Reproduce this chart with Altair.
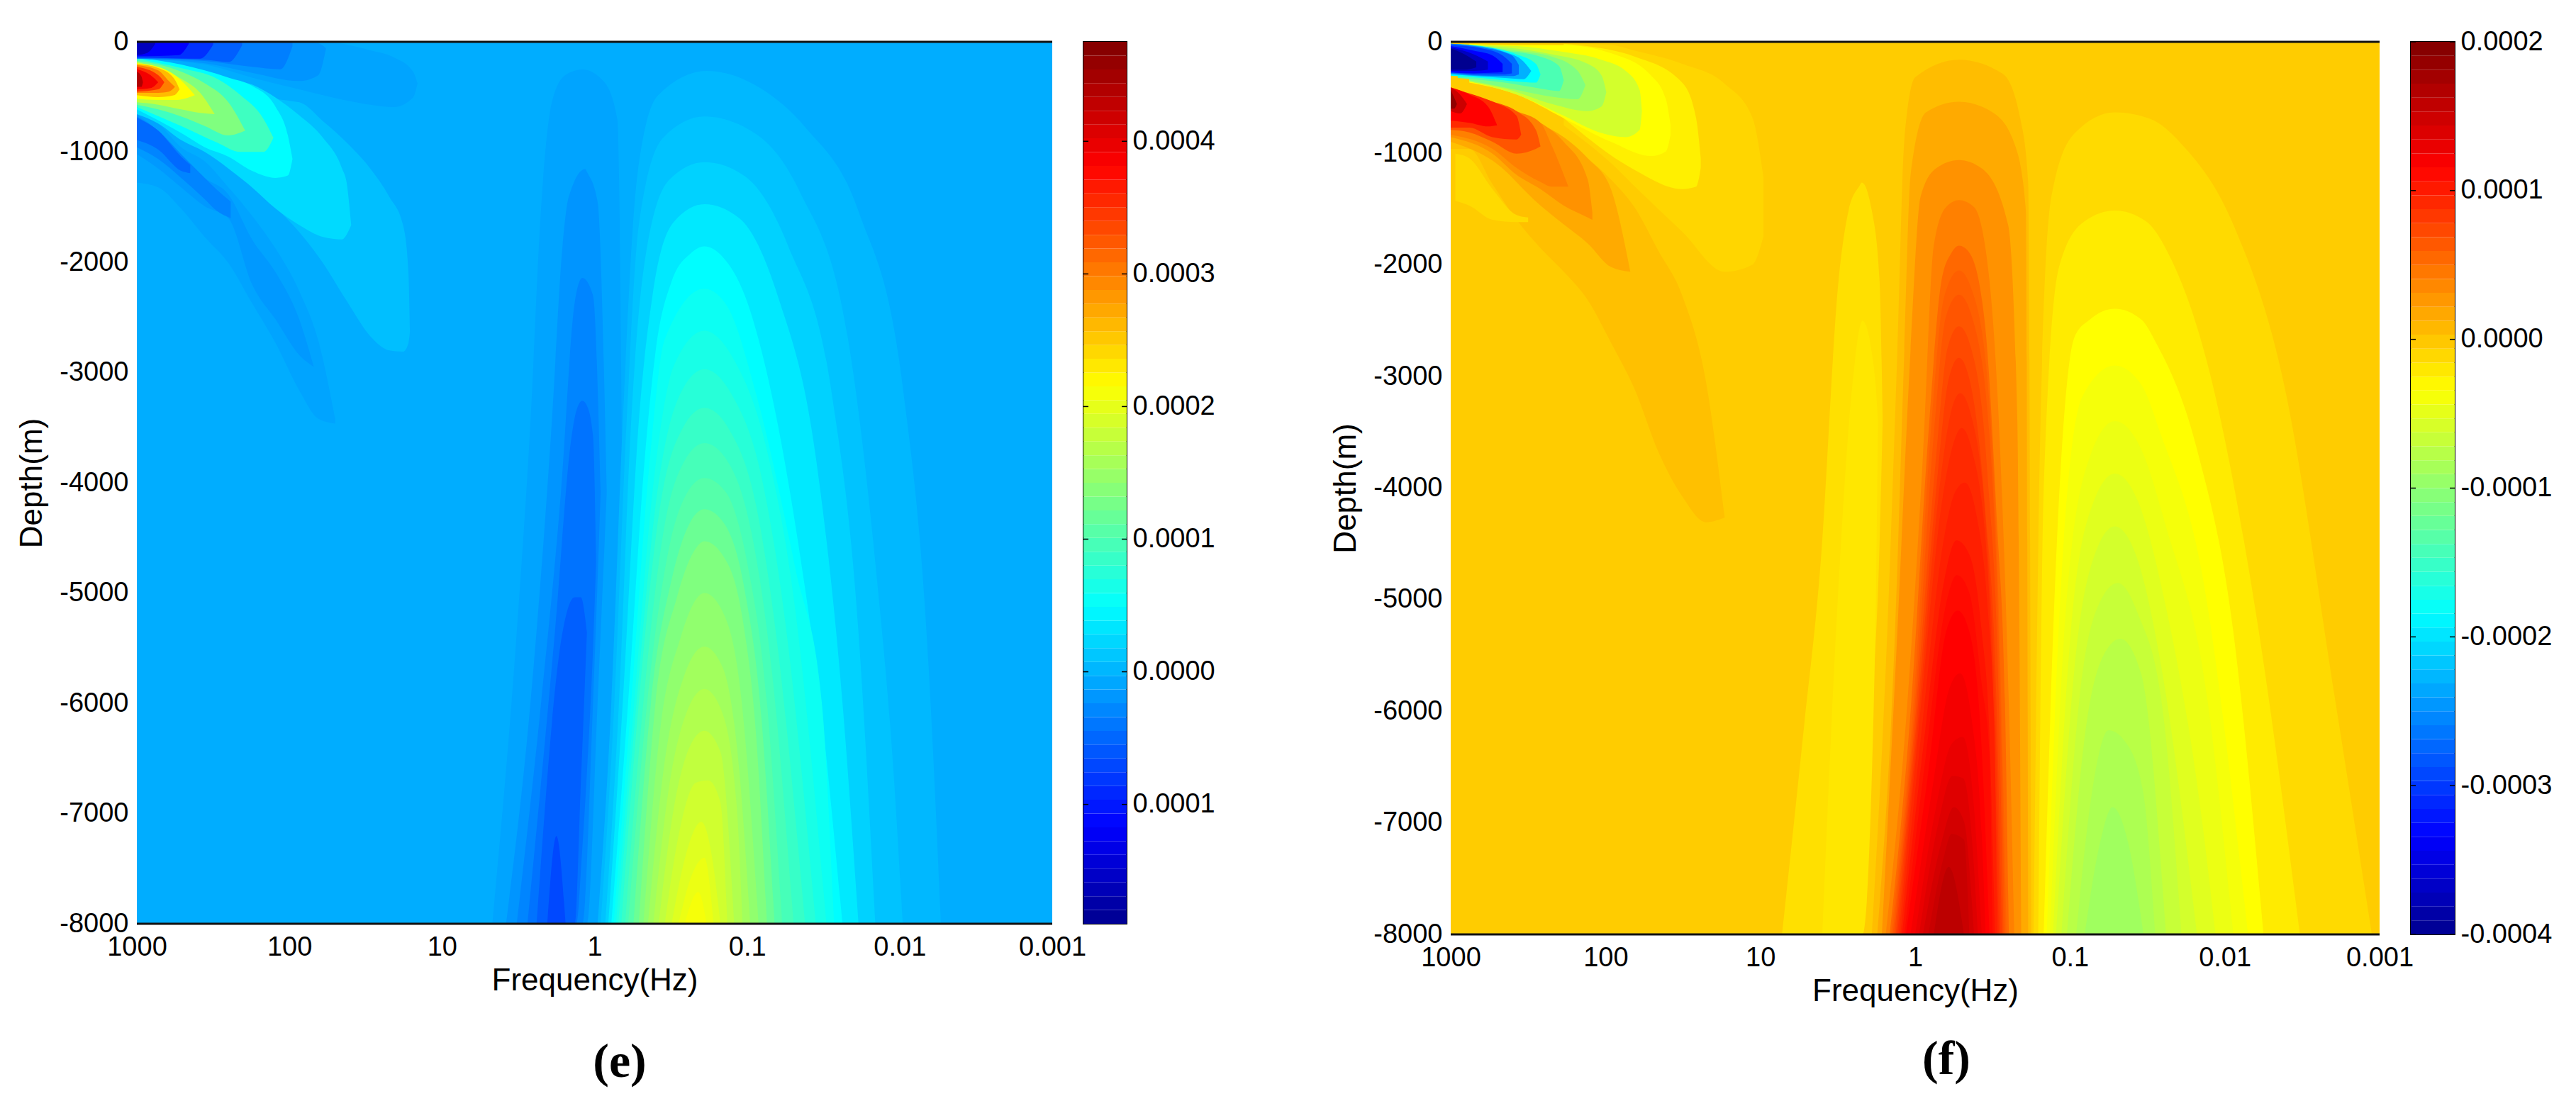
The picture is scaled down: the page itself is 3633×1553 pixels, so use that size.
import altair as alt
import numpy as np
import pandas as pd

FONT = "Liberation Sans"
X_TICKS = [1000, 100, 10, 1, 0.1, 0.01, 0.001]
Y_TICKS = [0, -1000, -2000, -3000, -4000, -5000, -6000, -7000, -8000]
JET_STOPS = [0, 0.11, 0.36, 0.61, 0.86, 1]
JET_COLORS = ["#00008F", "#0000FF", "#00FFFF", "#FFFF00", "#FF0000", "#800000"]

# each band: level (1e-4), decades below 1000 Hz, upper edge depth (m), lower edge depth (m; None = 8000)
BANDS_E = [
    (-0.04, [0, 6], [0, 0], None),
    (-0.1, [2.33, 2.49, 2.58, 2.65, 2.72, 2.81, 2.92, 3.06, 3.15, 3.2], [8000, 5357, 3447, 1500, 550, 300, 251, 359, 709, 8000], None),
    (-0.2, [2.42, 2.58, 2.72, 2.79, 2.83, 2.94, 2.95, 3.02, 3.08], [8000, 5994, 3447, 1855, 1410, 1155, 1180, 1450, 4084], [8000, 8000, 8000, 8000, 8000, 8000, 8000, 5994, 4084]),
    (-0.3, [2.49, 2.65, 2.78, 2.87, 2.92, 2.99, 3.04], [8000, 5994, 4084, 2365, 2142, 2300, 4084], [8000, 8000, 8000, 8000, 8000, 5994, 4084]),
    (-0.42, [2.56, 2.74, 2.85, 2.88, 2.92, 2.95, 2.99, 3.01], [8000, 5357, 3575, 3350, 3256, 3300, 3575, 4720], [8000, 8000, 8000, 8000, 7312, 6630, 5500, 4720]),
    (-0.55, [2.62, 2.79, 2.87, 2.91, 2.95], [8000, 5357, 5039, 5039, 5357], [8000, 8000, 8000, 6730, 5357]),
    (-0.7, [2.69, 2.75, 2.81], [8000, 7204, 8000], None),
    (0.03, [3.02, 3.11, 3.185, 3.28, 3.415, 3.735, 4.09, 4.38, 4.73, 5.02, 5.19, 5.27], [8000, 5994, 3447, 1219, 487, 264, 423, 773, 1537, 3129, 5676, 8000], None),
    (0.1, [3.04, 3.13, 3.21, 3.29, 3.45, 3.72, 4.06, 4.34, 4.66, 4.84, 4.96, 5.02], [8000, 5994, 3447, 1664, 869, 677, 837, 1346, 2683, 4720, 6630, 8000], None),
    (0.2, [3.07, 3.16, 3.24, 3.33, 3.49, 3.72, 3.985, 4.27, 4.555, 4.73, 4.84], [8000, 5994, 3447, 1983, 1251, 1091, 1219, 1855, 3193, 5357, 8000], None),
    (0.35, [3.09, 3.185, 3.29, 3.38, 3.52, 3.72, 3.95, 4.20, 4.45, 4.625, 4.73], [8000, 5994, 3447, 2301, 1633, 1473, 1601, 2301, 3766, 5994, 8000], None),
    (0.49, [3.11, 3.22, 3.33, 3.40, 3.505, 3.63, 3.72, 3.84, 3.985, 4.16, 4.34, 4.48, 4.625], [8000, 5994, 3766, 2810, 2174, 1919, 1855, 1951, 2301, 3193, 4593, 5994, 8000], None),
    (0.57, [3.125, 3.24, 3.355, 3.46, 3.72, 3.87, 4.06, 4.32, 4.49, 4.57], [8000, 5994, 3900, 2700, 2240, 2400, 3200, 4800, 6000, 8000], None),
    (0.65, [3.14, 3.26, 3.38, 3.52, 3.72, 3.91, 4.13, 4.305, 4.52], [8000, 5994, 4084, 2938, 2620, 2874, 3702, 5039, 8000], None),
    (0.75, [3.155, 3.275, 3.405, 3.55, 3.72, 3.895, 4.095, 4.25, 4.45], [8000, 5994, 4150, 3230, 2970, 3190, 3950, 5260, 8000], None),
    (0.85, [3.175, 3.29, 3.43, 3.575, 3.72, 3.88, 4.06, 4.20, 4.38], [8000, 5994, 4211, 3511, 3320, 3511, 4211, 5485, 8000], None),
    (0.95, [3.2, 3.32, 3.45, 3.59, 3.72, 3.87, 4.03, 4.165, 4.305], [8000, 5994, 4460, 3800, 3640, 3800, 4460, 5740, 8000], None),
    (1.05, [3.22, 3.345, 3.47, 3.61, 3.72, 3.86, 4.00, 4.13, 4.23], [8000, 5994, 4720, 4084, 3957, 4084, 4720, 5994, 8000], None),
    (1.19, [3.255, 3.37, 3.505, 3.63, 3.72, 3.85, 3.985, 4.095, 4.18], [8000, 5994, 4880, 4350, 4240, 4370, 4980, 6150, 8000], None),
    (1.33, [3.29, 3.40, 3.54, 3.65, 3.72, 3.84, 3.97, 4.06, 4.13], [8000, 5994, 5039, 4625, 4530, 4657, 5230, 6312, 8000], None),
    (1.44, [3.32, 3.425, 3.565, 3.72, 3.84, 3.96, 4.075], [8000, 6300, 5400, 5000, 5170, 5930, 8000], None),
    (1.55, [3.35, 3.45, 3.59, 3.72, 3.84, 3.95, 4.02], [8000, 6630, 5740, 5485, 5676, 6630, 8000], None),
    (1.65, [3.385, 3.485, 3.61, 3.72, 3.83, 3.93, 3.97], [8000, 6790, 6060, 5870, 6060, 6900, 8000], None),
    (1.75, [3.42, 3.52, 3.63, 3.72, 3.825, 3.915], [8000, 6949, 6376, 6249, 6440, 8000], None),
    (1.85, [3.46, 3.555, 3.665, 3.745, 3.825, 3.87], [8000, 7170, 6720, 6700, 6900, 8000], None),
    (1.95, [3.505, 3.595, 3.70, 3.77, 3.825], [8000, 7394, 7076, 7394, 8000], None),
    (2.03, [3.55, 3.64, 3.72, 3.78], [8000, 7550, 7400, 8000], None),
    (2.1, [3.59, 3.68, 3.735], [8000, 7713, 8000], None),
    # blue diagonal strip
    (-0.1, [0, 0.14, 0.29, 0.445, 0.60, 0.755, 0.91, 1.065, 1.19, 1.30], [634, 741, 956, 1084, 1320, 1577, 1877, 2263, 2713, 3420], [1277, 1320, 1513, 1770, 2006, 2370, 2734, 3163, 3420, 3463]),
    (-0.17, [0, 0.14, 0.29, 0.445, 0.60, 0.755, 0.91, 1.065, 1.16], [656, 806, 1020, 1234, 1384, 1792, 2092, 2520, 2949], [1020, 1149, 1320, 1492, 1599, 2199, 2520, 2842, 2949]),
    (-0.3, [0, 0.14, 0.29, 0.445, 0.525, 0.615], [677, 806, 1020, 1234, 1342, 1449], [956, 1063, 1234, 1427, 1534, 1599]),
    (-0.48, [0, 0.14, 0.29, 0.35], [688, 806, 1041, 1116], [891, 977, 1170, 1191]),
    # warm blob and its lobe
    (0.08, [0.755, 1.065, 1.22, 1.375, 1.53, 1.655, 1.745, 1.78, 1.79], [506, 549, 720, 913, 1149, 1406, 1663, 2092, 2627], [1320, 1727, 2006, 2349, 2670, 2799, 2810, 2734, 2627]),
    (0.25, [0, 0.14, 0.29, 0.445, 0.60, 0.755, 0.91, 1.065, 1.22, 1.345, 1.375, 1.405], [141, 174, 216, 270, 334, 388, 506, 667, 870, 1149, 1277, 1663], [656, 741, 891, 999, 1149, 1320, 1513, 1663, 1770, 1792, 1749, 1663]),
    (0.49, [0, 0.29, 0.445, 0.60, 0.755, 0.91, 0.99, 1.02], [141, 206, 259, 324, 399, 591, 849, 1063], [613, 827, 956, 1041, 1170, 1234, 1213, 1063]),
    (0.9, [0, 0.29, 0.525, 0.68, 0.83, 0.895], [152, 238, 334, 484, 699, 870], [591, 763, 913, 999, 999, 870]),
    (1.33, [0, 0.14, 0.29, 0.445, 0.60, 0.71], [174, 206, 270, 377, 549, 806], [570, 613, 677, 763, 849, 806]),
    (1.75, [0, 0.14, 0.29, 0.415, 0.51], [184, 238, 334, 463, 656], [549, 570, 613, 645, 656]),
    (2.16, [0, 0.14, 0.26, 0.38], [195, 227, 313, 484], [516, 527, 527, 484]),
    (2.6, [0, 0.14, 0.245, 0.28], [201, 238, 334, 431], [484, 501, 484, 431]),
    (3.0, [0, 0.14, 0.21, 0.25], [210, 259, 356, 409], [463, 463, 452, 409]),
    (3.5, [0, 0.14, 0.18], [227, 302, 366], [452, 431, 366]),
    (3.9, [0, 0.09, 0.14], [249, 302, 366], [431, 420, 366]),
    (4.4, [0, 0.03, 0.04], [270, 313, 366], [409, 409, 366]),
    # blue surface band
    (-0.1, [0, 0.445, 0.755, 1.065, 1.22, 1.53, 1.685, 1.81, 1.84], [0, 0, 0, 0, 0, 77, 141, 270, 377], [152, 206, 324, 431, 484, 570, 591, 506, 377]),
    (-0.2, [0, 0.445, 0.755, 1.065, 1.19, 1.24], [0, 0, 0, 0, 13, 60], [152, 195, 281, 356, 302, 60]),
    (-0.34, [0, 0.445, 0.755, 0.94, 1.02], [0, 0, 0, 0, 0], [152, 174, 227, 249, 40]),
    (-0.55, [0, 0.445, 0.60, 0.69], [0, 0, 0, 0], [148, 163, 184, 30]),
    (-0.85, [0, 0.415, 0.50], [0, 0, 0], [141, 152, 25]),
    (-1.17, [0, 0.275, 0.34], [0, 0, 0], [131, 120, 20]),
    (-1.6, [0, 0.07, 0.12], [0, 0, 0], [120, 99, 20]),
]

BANDS_F = [
    (-0.04, [0, 6], [0, 0], None),
    # left pale arch
    (-0.16, [2.14, 2.275, 2.39, 2.505, 2.57, 2.64, 2.655, 2.72, 2.77, 2.79], [8000, 6231, 4658, 2141, 1512, 1292, 1261, 1512, 2141, 3400], [8000, 8000, 8000, 8000, 8000, 8000, 7500, 6000, 4500, 3400]),
    (-0.2, [2.40, 2.50, 2.6, 2.66, 2.74, 2.76], [8000, 5000, 3000, 2500, 3000, 3400], [8000, 8000, 8000, 8000, 5500, 3400]),
    # red arch
    (0.05, [2.72, 2.82, 2.885, 2.93, 3.00, 3.283, 3.565, 3.68, 3.73, 3.75], [8000, 5287, 2770, 883, 317, 160, 286, 694, 1261, 8000], None),
    (0.16, [2.755, 2.87, 2.93, 2.97, 3.07, 3.283, 3.50, 3.65, 3.715, 3.73], [8000, 5287, 2770, 1198, 632, 537, 632, 946, 1512, 8000], None),
    (0.3, [2.785, 2.885, 2.97, 3.035, 3.135, 3.283, 3.43, 3.60, 3.66, 3.685], [8000, 5287, 2770, 1387, 1135, 1060, 1135, 1638, 3400, 8000], None),
    (0.41, [2.81, 2.95, 3.05, 3.12, 3.20, 3.283, 3.38, 3.48, 3.56, 3.605, 3.64], [8000, 5916, 3714, 1827, 1481, 1418, 1481, 2141, 4029, 5916, 8000], None),
    (0.55, [2.835, 2.975, 3.085, 3.17, 3.235, 3.283, 3.35, 3.45, 3.53, 3.58, 3.605], [8000, 5916, 3525, 2141, 1890, 1827, 1890, 2519, 4343, 5916, 8000], None),
    (0.6, [2.845, 2.99, 3.10, 3.185, 3.283, 3.36, 3.465, 3.54, 3.59], [8000, 5916, 3525, 2300, 2050, 2200, 3000, 5100, 8000], None),
    (0.66, [2.855, 3.00, 3.12, 3.20, 3.283, 3.365, 3.48, 3.55, 3.58], [8000, 5916, 3525, 2456, 2267, 2456, 3525, 5916, 8000], None),
    (0.73, [2.865, 3.01, 3.13, 3.21, 3.283, 3.36, 3.465, 3.54, 3.57], [8000, 5916, 3800, 2740, 2550, 2740, 3840, 5916, 8000], None),
    (0.8, [2.875, 3.02, 3.135, 3.217, 3.283, 3.35, 3.45, 3.525, 3.56], [8000, 5916, 4029, 3022, 2833, 3022, 4155, 5916, 8000], None),
    (0.86, [2.885, 3.03, 3.15, 3.235, 3.29, 3.36, 3.46, 3.515, 3.55], [8000, 5916, 4090, 3300, 3150, 3340, 4400, 5916, 8000], None),
    (0.92, [2.895, 3.04, 3.17, 3.25, 3.30, 3.365, 3.465, 3.505, 3.54], [8000, 5916, 4155, 3588, 3462, 3651, 4658, 5916, 8000], None),
    (0.98, [2.905, 3.05, 3.18, 3.26, 3.32, 3.39, 3.47, 3.51, 3.53], [8000, 6070, 4500, 4030, 3950, 4200, 5100, 6070, 8000], None),
    (1.05, [2.915, 3.06, 3.185, 3.267, 3.35, 3.43, 3.48, 3.515], [8000, 6231, 4847, 4469, 4595, 5287, 6231, 8000], None),
    (1.1, [2.93, 3.07, 3.195, 3.27, 3.35, 3.43, 3.48, 3.50], [8000, 6390, 5070, 4780, 4940, 5760, 6390, 8000], None),
    (1.16, [2.94, 3.085, 3.20, 3.275, 3.35, 3.425, 3.48], [8000, 6545, 5287, 5098, 5287, 6231, 8000], None),
    (1.23, [2.97, 3.11, 3.22, 3.29, 3.365, 3.43, 3.455], [8000, 6700, 5800, 5660, 6070, 7100, 8000], None),
    (1.3, [3.00, 3.135, 3.235, 3.307, 3.38, 3.43], [8000, 6860, 6294, 6231, 6860, 8000], None),
    (1.37, [3.025, 3.15, 3.24, 3.31, 3.38, 3.405], [8000, 7000, 6580, 6600, 7400, 8000], None),
    (1.45, [3.05, 3.17, 3.25, 3.315, 3.38], [8000, 7174, 6860, 6985, 8000], None),
    (1.52, [3.085, 3.19, 3.235, 3.315, 3.35], [8000, 7280, 7100, 7150, 8000], None),
    (1.6, [3.12, 3.217, 3.315], [8000, 7394, 8000], None),
    # yellow arch
    (-0.12, [3.765, 3.81, 3.88, 4.03, 4.29, 4.525, 4.72, 5.055, 5.385, 5.715, 5.95], [8000, 3400, 1387, 820, 632, 694, 915, 1638, 3085, 5916, 8000], None),
    (-0.22, [3.795, 3.83, 3.93, 4.095, 4.29, 4.49, 4.655, 4.89, 5.22, 5.485], [8000, 4029, 2016, 1607, 1512, 1607, 1953, 2896, 5287, 8000], None),
    (-0.34, [3.83, 3.91, 4.03, 4.13, 4.29, 4.46, 4.56, 4.82, 5.055, 5.25], [8000, 4658, 2645, 2488, 2393, 2488, 2708, 3651, 5287, 8000], None),
    (-0.4, [3.85, 3.945, 4.08, 4.29, 4.46, 4.59, 4.855, 5.15], [8000, 4800, 3180, 2900, 3070, 3530, 4780, 8000], None),
    (-0.45, [3.87, 3.98, 4.13, 4.29, 4.46, 4.62, 4.89, 5.055], [8000, 4973, 3714, 3400, 3651, 4343, 5916, 8000], None),
    (-0.52, [3.89, 4.005, 4.145, 4.29, 4.44, 4.605, 4.855, 4.94], [8000, 5290, 4150, 3870, 4120, 4970, 7000, 8000], None),
    (-0.6, [3.91, 4.03, 4.16, 4.29, 4.425, 4.59, 4.82], [8000, 5601, 4595, 4343, 4595, 5601, 8000], None),
    (-0.67, [3.945, 4.06, 4.19, 4.31, 4.44, 4.60, 4.72], [8000, 5900, 5030, 4850, 5130, 6000, 8000], None),
    (-0.75, [3.98, 4.095, 4.225, 4.325, 4.46, 4.62], [8000, 6231, 5476, 5350, 5664, 8000], None),
    (-0.82, [4.04, 4.145, 4.25, 4.35, 4.47, 4.55], [8000, 6700, 6170, 6260, 6700, 8000], None),
    (-0.9, [4.095, 4.195, 4.275, 4.375, 4.475], [8000, 7174, 6860, 7174, 8000], None),
    # orange diagonal strip
    (0.03, [0, 0.12, 0.27, 0.425, 0.58, 0.73, 0.885, 1.035, 1.19, 1.34, 1.495, 1.65, 1.77], [430, 493, 578, 663, 748, 875, 1044, 1235, 1489, 1870, 2273, 3056, 4264], [959, 959, 1277, 1595, 1849, 2061, 2315, 2696, 3120, 3671, 4073, 4306, 4264]),
    (0.16, [0, 0.27, 0.58, 0.73, 0.885, 1.035, 1.16], [430, 557, 737, 854, 1044, 1320, 2061], [896, 1065, 1468, 1637, 1807, 2018, 2061]),
    (0.3, [0, 0.27, 0.425, 0.58, 0.73, 0.885, 0.915], [419, 546, 642, 726, 896, 1235, 1531], [854, 1002, 1192, 1320, 1468, 1574, 1595]),
    (0.41, [0, 0.27, 0.425, 0.58, 0.655, 0.76], [419, 536, 621, 726, 938, 1298], [832, 959, 1129, 1256, 1298, 1298]),
    (0.66, [0, 0.12, 0.27, 0.425, 0.55, 0.58], [419, 472, 536, 621, 790, 938], [790, 811, 896, 1002, 959, 938]),
    (0.92, [0, 0.12, 0.27, 0.425, 0.455], [413, 462, 536, 663, 832], [769, 769, 854, 875, 832]),
    (1.16, [0, 0.12, 0.24, 0.30], [409, 472, 578, 748], [705, 726, 758, 748]),
    (1.5, [0, 0.06, 0.105], [409, 472, 557], [621, 642, 557]),
    (1.9, [0, 0.02, 0.04], [430, 493, 557], [599, 599, 557]),
    (-0.12, [0.03, 0.12, 0.27, 0.425, 0.50], [1002, 1044, 1320, 1552, 1574], [1425, 1468, 1595, 1616, 1616]),
    # surface lobes
    (-0.1, [0.73, 1.035, 1.19, 1.495, 1.77, 1.95, 2.02], [17, 28, 80, 197, 377, 684, 1214], [748, 1087, 1298, 1701, 2061, 1997, 1743]),
    (-0.25, [0.73, 1.19, 1.495, 1.585, 1.615], [17, 133, 366, 684, 1044], [684, 1150, 1320, 1298, 1129]),
    (-0.34, [0.12, 0.425, 0.73, 1.035, 1.295, 1.39, 1.42], [17, 28, 28, 102, 303, 515, 748], [366, 472, 684, 896, 1023, 981, 832]),
    (-0.6, [0.15, 0.425, 0.73, 0.96, 1.13, 1.22, 1.235], [28, 38, 91, 155, 261, 430, 621], [366, 472, 663, 811, 854, 790, 621]),
    (-0.85, [0.12, 0.35, 0.655, 0.885, 0.975, 1.005], [28, 49, 112, 197, 303, 451], [356, 419, 557, 621, 578, 451]),
    (-1.09, [0.12, 0.425, 0.655, 0.82, 0.87], [32, 80, 133, 261, 388], [345, 430, 493, 515, 388]),
    (-1.4, [0.045, 0.35, 0.58, 0.70, 0.73], [28, 80, 133, 218, 345], [324, 366, 419, 441, 345]),
    (-1.84, [0, 0.20, 0.425, 0.55, 0.58], [17, 38, 112, 197, 292], [303, 324, 356, 366, 292]),
    (-2.3, [0, 0.12, 0.35, 0.47, 0.52], [17, 28, 91, 176, 261], [292, 303, 324, 335, 261]),
    (-2.7, [0, 0.20, 0.395, 0.44], [17, 49, 123, 208], [282, 303, 307, 292]),
    (-3.0, [0, 0.20, 0.335, 0.395], [28, 59, 123, 197], [277, 292, 292, 282]),
    (-3.34, [0, 0.15, 0.27, 0.335], [38, 80, 123, 197], [271, 282, 277, 271]),
    (-3.7, [0, 0.15, 0.24], [49, 112, 176], [261, 261, 250]),
    (-4.0, [0, 0.09, 0.165], [59, 112, 176], [250, 250, 229]),
]

E_DOMAIN = [-0.00019, 0.000475]
F_DOMAIN = [-0.0004, 0.0002]
E_BAR_TICKS = [0.0004, 0.0003, 0.0002, 0.0001, 0.0, -0.0001]
F_BAR_TICKS = [0.0002, 0.0001, 0.0, -0.0001, -0.0002, -0.0003, -0.0004]


def table(bands):
    rows = []
    for i, (level, ds, tops, bots) in enumerate(bands):
        bots = bots if bots is not None else [8000] * len(ds)
        for d, t, b in zip(ds, tops, bots):
            rows.append({"band": i, "f": 1000.0 / 10.0 ** d, "top": -t, "bot": -b, "value": level * 1e-4})
    return pd.DataFrame(rows)


def jet(domain):
    lo, hi = domain
    return alt.Scale(domain=[lo + s * (hi - lo) for s in JET_STOPS], range=JET_COLORS,
                     interpolate="rgb", clamp=True)


def heat(bands, domain, w, h, label, lx, ly):
    xs = alt.Scale(type="log", domain=[0.001, 1000], reverse=True, nice=False)
    ys = alt.Scale(domain=[-8000, 0], nice=False)
    y_axis = alt.Axis(
        values=Y_TICKS, labelExpr="'' + datum.value", title="Depth(m)", grid=False, domain=False,
        ticks=False, labelFont=FONT, labelFontSize=38, labelColor="black", labelPadding=12,
        labelOverlap=False, titleFont=FONT, titleFontSize=44, titleFontWeight="normal",
        titleColor="black", titlePadding=16)
    area = alt.Chart(table(bands)).mark_area(interpolate="monotone", clip=True).encode(
        x=alt.X("f:Q", scale=xs, axis=alt.Axis(
            values=X_TICKS, format="~g", title="Frequency(Hz)", grid=False, domain=False, ticks=False,
            labelFont=FONT, labelFontSize=38, labelColor="black", labelPadding=14, labelFlush=False,
            labelOverlap=False, titleFont=FONT, titleFontSize=44, titleFontWeight="normal",
            titleColor="black", titlePadding=6)),
        y=alt.Y("top:Q", scale=ys, axis=y_axis),
        y2="bot:Q",
        color=alt.Color("value:Q", scale=jet(domain), legend=None),
        detail="band:N",
    )
    frame = alt.Chart(pd.DataFrame({"y": [0, -8000]})).mark_rule(color="#111111", size=3).encode(
        y=alt.Y("y:Q", scale=ys, axis=y_axis))
    tag = alt.Chart(pd.DataFrame({"t": [label]})).mark_text(
        font="Liberation Serif", fontWeight="bold", fontSize=68, color="black").encode(
        x=alt.value(lx), y=alt.value(ly), text="t:N")
    return alt.layer(area, frame, tag).properties(width=w, height=h)


def bar(domain, ticks, w, h, expr):
    edges = np.linspace(domain[0], domain[1], 65)
    cells = pd.DataFrame({"lo": edges[:-1], "hi": edges[1:], "value": (edges[:-1] + edges[1:]) / 2})
    ys = alt.Scale(domain=domain, nice=False)
    y_axis = alt.Axis(
        orient="right", values=ticks, labelExpr=expr, title=None, grid=False, domain=False, ticks=False,
        labelFont=FONT, labelFontSize=38, labelColor="black", labelPadding=8, labelOverlap=False,
        labelFlush=False)
    rect = alt.Chart(cells).mark_rect().encode(
        y=alt.Y("lo:Q", scale=ys, axis=y_axis),
        y2="hi:Q",
        color=alt.Color("value:Q", scale=jet(domain), legend=None),
    )
    tick_df = pd.DataFrame({"y": ticks})
    left = alt.Chart(tick_df).mark_rule(color="black", size=1.5).encode(
        y=alt.Y("y:Q", scale=ys, axis=y_axis), x=alt.value(0), x2=alt.value(7))
    right = alt.Chart(tick_df).mark_rule(color="black", size=1.5).encode(
        y=alt.Y("y:Q", scale=ys, axis=y_axis), x=alt.value(w - 7), x2=alt.value(w))
    return alt.layer(rect, left, right).properties(
        width=w, height=h, view=alt.ViewBackground(stroke="black", strokeWidth=2))


spacer = alt.Chart(pd.DataFrame({"a": [0]})).mark_point(opacity=0).encode(
    x=alt.value(0), y=alt.value(0)).properties(
    width=369, height=10, view=alt.ViewBackground(stroke=None))

chart = alt.hconcat(
    heat(BANDS_E, E_DOMAIN, 1291, 1244, "(e)", 681, 1440),
    bar(E_DOMAIN, E_BAR_TICKS, 61, 1244, "format(abs(datum.value), '.4f')"),
    spacer,
    heat(BANDS_F, F_DOMAIN, 1310, 1259, "(f)", 699, 1436),
    bar(F_DOMAIN, F_BAR_TICKS, 62, 1259, "(datum.value < 0 ? '-' : '') + format(abs(datum.value), '.4f')"),
    spacing=44, bounds="flush",
).resolve_scale(color="independent").properties(
    background="white", padding={"left": 15, "top": 31, "right": 5, "bottom": 5}
).configure_view(stroke=None)

chart.save("out.html", embed_options={"renderer": "svg", "actions": False})
